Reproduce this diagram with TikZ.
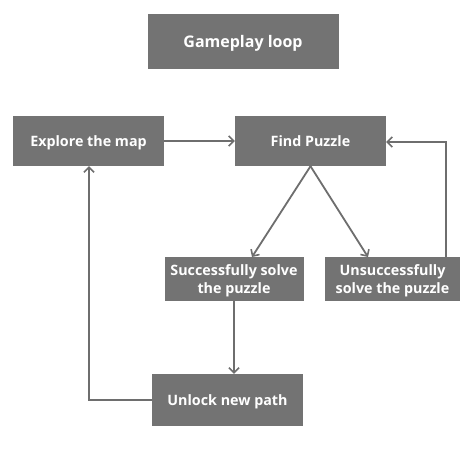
\documentclass[tikz,border=0pt]{standalone}
\usepackage{fontspec}
\setmainfont{Open Sans}
\usetikzlibrary{arrows.meta}
\definecolor{boxgray}{HTML}{737373}
\definecolor{linegray}{HTML}{6E6E6E}
\begin{document}
\begin{tikzpicture}[x=1pt,y=-1pt,
  box/.style={fill=boxgray,draw=none,text=white,font=\bfseries\fontsize{14.3}{17.5}\selectfont,align=center,inner sep=0pt,text depth=0pt},
  conn/.style={draw=linegray,line width=1.8pt,-{Straight Barb[length=5pt,width=10pt,line width=1.6pt]}}]
\useasboundingbox[fill=white] (0,0) rectangle (474,474);
\node[box,minimum width=191pt,minimum height=55pt,font=\bfseries\fontsize{16}{19}\selectfont] (title) at (243,41.5) {Gameplay loop};
\node[box,minimum width=151pt,minimum height=50pt] (explore) at (88.5,141) {Explore the map};
\node[box,minimum width=151pt,minimum height=50pt] (find) at (310.5,141) {Find Puzzle};
\node[box,minimum width=139pt,minimum height=44pt] (succ) at (234,279) {Successfully solve\\the puzzle};
\node[box,minimum width=135pt,minimum height=44pt] (unsucc) at (392.5,279) {Unsuccessfully\\solve the puzzle};
\node[box,minimum width=151pt,minimum height=52pt] (unlock) at (227.5,400) {Unlock new path};
\coordinate (fb) at (find.south);
\coordinate (st) at (252,257);
\coordinate (ut) at (368,257);
\coordinate (ucorner) at (446,142);
\coordinate (lcorner) at (89,400);
\draw[conn] (explore.east) -- (explore.east -| find.west);
\draw[conn] (fb) -- (st);
\draw[conn] (fb) -- (ut);
\draw[conn] (unsucc.north -| ucorner) -- (ucorner) -- (ucorner -| find.east);
\draw[conn] (succ.south) -- (succ.south |- unlock.north);
\draw[conn] (unlock.west) -- (lcorner) -- (explore.south -| lcorner);
\end{tikzpicture}
\end{document}
